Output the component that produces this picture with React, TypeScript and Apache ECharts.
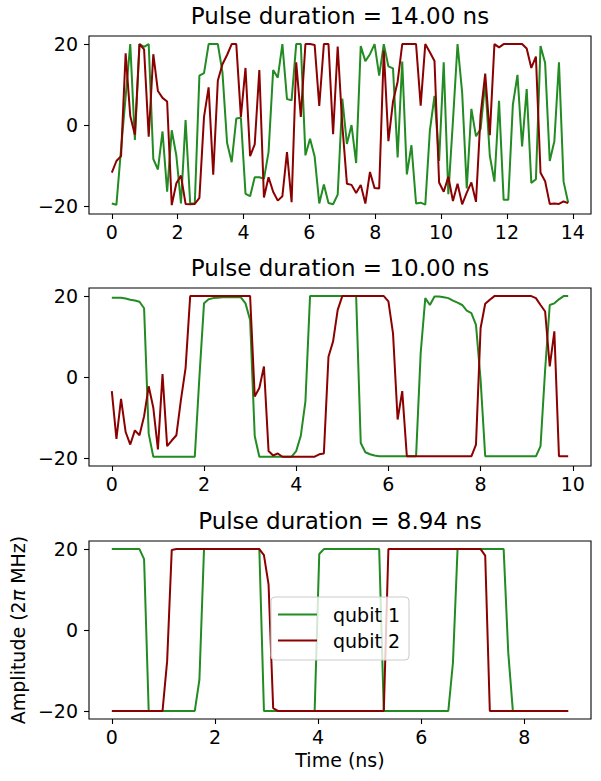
import React, { useEffect, useRef } from "react";
import * as echarts from "echarts";

// Pulse durations (ns) and sample step for 100 samples each
const durations = [14.0, 10.0, 8.94];
const titles = ["Pulse duration = 14.00 ns", "Pulse duration = 10.00 ns", "Pulse duration = 8.94 ns"];
const seriesNames = ["qubit 1", "qubit 2"];
const xTicks14 = [0, 2, 4, 6, 8, 10, 12, 14];
const xTicks10 = [0, 2, 4, 6, 8, 10];
const xTicks894 = [0, 2, 4, 6, 8];
const yTicks = [-20, 0, 20];

const q1_14 = [
  -19.4, -19.7, -6, 7, 20, -3.7, 20, 19.3, 20, -8.4,
  -11, -1.6, -16.5, -1.3, -7.6, -19.4, 1.2, -19.4, -19.4, 12.2,
  12.8, 20, 20, 20, 13, -4.4, -9.2, 1.6, 1.8, -17,
  -17.6, -12.9, -12.9, -13.3, -6.7, 13.6, 11.7, 20, 6.4, 6.1,
  20, 20, -7.5, -3.4, -7.8, -19.4, -14.7, -19.3, -19.6, -17.2,
  6.5, -4.7, 0, -9.4, 19.5, 15.8, 17.5, 20, 12.2, 20,
  14.5, 14, -8, 15.7, -12.2, -5, -19.4, -19.2, -19.7, -1.3,
  7.2, -8.9, 15.5, -17.1, 1, 20, 8, -15.7, 4, -2.8,
  -1, 10.5, -7.6, -14, 6, -18.5, -18.5, 5, 12.4, -5.3,
  8.9, -14.3, -13.4, 19.5, 15.3, -8.9, -4, 15.5, -14, -19.2,
];
const q2_14 = [
  -11.8, -8.9, -7.7, 17.7, 2.2, -2.4, 20, 18.7, -2.9, 17.5,
  8.4, 6.7, 5.8, -19.8, -14.4, -12.5, -19.5, -19.6, -19.5, -18,
  2, 9.3, -12.3, 11, 15, 17.3, 20, 20, 2, 14.1,
  -7.7, -4.8, 13.6, -17.9, -12.9, -16.5, -18.7, -17.6, -6.7, -19.1,
  15.5, 2, 20, 20, 19.8, 4.7, 20, 20, -2.3, 19.4,
  0, -14.5, -14.8, -16.8, -14.8, -19.4, -11.6, -15.6, -15.7, 18.4,
  -4, 5.8, 10.7, 20, 20, 20, 20, 4.8, 20, 18,
  15.8, -14.2, -16.5, -12.8, -18.8, -14.5, -19.6, -16.7, -14.2, -19,
  2.5, 12.7, -2.5, 20, 19.2, 20, 20, 20, 20, 20,
  18.9, 14.1, 16.9, -11.8, -13.9, -19.5, -19.4, -19.5, -18.9, -19.3,
];
const q1_10 = [
  19.6, 19.6, 19.6, 19.4, 19.1, 18.9, 18.6, 17, -14, -19.7,
  -19.7, -19.7, -19.7, -19.7, -19.7, -19.7, -19.7, -19.7, -19.7, 0,
  18.2, 19.2, 19.5, 19.6, 19.7, 19.7, 19.7, 19.7, 19.7, 18.2,
  14.1, -14.6, -19.7, -19.7, -19.7, -19.7, -19.7, -19.7, -19.7, -19.7,
  -18.3, -14.5, -6, 20, 20, 20, 20, 20, 20, 20,
  20, 20, 20, 20, -16.3, -18.6, -19.1, -19.4, -19.6, -19.6,
  -19.6, -19.6, -19.6, -19.6, -19.6, -19.6, -19.6, 5.9, 19.5, 17.8,
  19.9, 19.9, 19.7, 19.5, 18.9, 18.4, 17.8, 16.4, 15.8, 12.9,
  -0.7, -19.6, -19.6, -19.6, -19.6, -19.6, -19.6, -19.6, -19.6, -19.6,
  -19.6, -19.6, -19.6, -17.1, 1.8, 17.8, 18.2, 19.2, 20, 20,
];
const q2_10 = [
  -3.5, -15.3, -5.4, -13.6, -16.7, -13.2, -14.4, -9.7, -2.3, -7.6,
  -17.9, 0.7, -17.1, -15.7, -14.4, -5.6, 2.2, 20, 20, 20,
  20, 20, 20, 20, 20, 20, 20, 20, 20, 20,
  20, -4.8, -2.7, 2.6, -18.3, -19.4, -18.9, -19.7, -19.7, -19.7,
  -19.7, -19.7, -19.7, -19.7, -19.7, -19.1, -18.9, 5, 8.8, 16.6,
  20, 20, 20, 20, 20, 20, 20, 20, 20, 20,
  18.7, 10.8, -10.5, -3.5, -19.6, -19.6, -19.6, -19.6, -19.6, -19.6,
  -19.6, -19.6, -19.6, -19.6, -19.6, -19.6, -19.6, -19.6, -19.6, -16.7,
  12.1, 18.1, 19.1, 20, 20, 20, 20, 20, 20, 20,
  20, 20, 19.5, 17.8, 16.2, 2.6, 11.3, -19.6, -19.6, -19.6,
];
const q1_894 = [
  20, 20, 20, 20, 20, 20, 20, 17.5, -20, -20,
  -20, -20, -20, -20, -20, -20, -20, -20, -20, -12.3,
  20, 20, 20, 20, 20, 20, 20, 20, 20, 20,
  20, 20, 20, -20, -20, -20, -20, -20, -20, -20,
  -20, -20, -20, -20, -20, 18.8, 20, 20, 20, 20,
  20, 20, 20, 20, 20, 20, 20, 20, 20, -20,
  -20, -20, -20, -20, -20, -20, -20, -20, -20, -20,
  -20, -20, -20, -20, -8.1, 20, 20, 20, 20, 20,
  20, 20, 20, 20, 20, 20, -5.6, -20, -20, -20,
  -20, -20, -20, -20, -20, -20, -20, -20, -20, -20,
];
const q2_894 = [
  -20, -20, -20, -20, -20, -20, -20, -20, -20, -20,
  -20, -20, -7.7, 19.8, 20, 20, 20, 20, 20, 20,
  20, 20, 20, 20, 20, 20, 20, 20, 20, 20,
  20, 20, 20, 18.5, 11.3, -19.3, -20, -20, -20, -20,
  -20, -20, -20, -20, -20, -20, -20, -20, -20, -20,
  -20, -20, -20, -20, -20, -20, -20, -20, -20, -20,
  20, 20, 20, 20, 20, 20, 20, 20, 20, 20,
  20, 20, 20, 20, 20, 20, 20, 20, 20, 20,
  20, 18.4, -20, -20, -20, -20, -20, -20, -20, -20,
  -20, -20, -20, -20, -20, -20, -20, -20, -20, -20,
];

const GREEN = "#228B22";
const RED = "#8B0000";
const FONT = "DejaVu Sans";

function pairs(values: number[], duration: number) {
  const dt = duration / values.length;
  return values.map((v, i) => [i * dt, v]);
}

function fmtY(v: number) {
  return v < 0 ? "\u2212" + Math.abs(v) : String(v);
}

export default function App() {
  const ref = useRef<HTMLDivElement>(null);
  useEffect(() => {
    if (!ref.current) return;
    const chart = echarts.init(ref.current, null, { renderer: "svg" });
    const gridTops = [36, 288, 541];
    const gridH = 178;
    const xTickSets = [xTicks14, xTicks10, xTicks894];
    const data = [
      [q1_14, q2_14],
      [q1_10, q2_10],
      [q1_894, q2_894],
    ];
    const labelStyle = { fontSize: 19, color: "#000", fontFamily: FONT };
    const grids = gridTops.map((t) => ({
      left: 89,
      top: t,
      width: 502,
      height: gridH,
      show: true,
      borderColor: "#000",
      borderWidth: 1.1,
      backgroundColor: "transparent",
    }));
    const xAxes = durations.map((d, k) => {
      const last = (d / 100) * 99;
      const pad = last * 0.05;
      return {
        type: "value",
        gridIndex: k,
        position: "bottom",
        min: -pad,
        max: last + pad,
        axisLine: { show: false, onZero: false },
        splitLine: { show: false },
        axisTick: {
          show: true,
          length: 5,
          lineStyle: { color: "#000", width: 1.1 },
          customValues: xTickSets[k],
        },
        axisLabel: { ...labelStyle, margin: 8, customValues: xTickSets[k] },
        ...(k === 2
          ? {
              name: "Time (ns)",
              nameLocation: "middle",
              nameGap: 31,
              nameTextStyle: { ...labelStyle },
            }
          : {}),
      };
    });
    const yAxes = durations.map((_, k) => ({
      type: "value",
      gridIndex: k,
      position: "left",
      min: -22,
      max: 22,
      axisLine: { show: false, onZero: false },
      splitLine: { show: false },
      axisTick: {
        show: true,
        length: 5,
        lineStyle: { color: "#000", width: 1.1 },
        customValues: yTicks,
      },
      axisLabel: { ...labelStyle, margin: 11, formatter: fmtY, customValues: yTicks },
      ...(k === 2
        ? {
            name: "Amplitude (2{it|\u03c0} MHz)",
            nameLocation: "middle",
            nameRotate: 90,
            nameGap: 58,
            nameTextStyle: {
              ...labelStyle,
              rich: { it: { ...labelStyle, fontStyle: "italic" } },
            },
          }
        : {}),
    }));
    const series: any[] = [];
    data.forEach((pair, k) => {
      pair.forEach((vals, j) => {
        series.push({
          type: "line",
          name: seriesNames[j],
          xAxisIndex: k,
          yAxisIndex: k,
          data: pairs(vals, durations[k]),
          symbol: "none",
          showSymbol: false,
          color: j === 0 ? GREEN : RED,
          lineStyle: { width: 2, color: j === 0 ? GREEN : RED },
          z: 2 + j,
        });
      });
    });
    chart.setOption({
      animation: false,
      backgroundColor: "#fff",
      title: titles.map((t, k) => ({
        text: t,
        left: 340,
        textAlign: "center",
        top: gridTops[k] - 32,
        padding: 0,
        textStyle: { fontSize: 23, fontWeight: "normal", color: "#000", fontFamily: FONT },
      })),
      grid: grids,
      xAxis: xAxes,
      yAxis: yAxes,
      legend: {
        data: seriesNames,
        orient: "vertical",
        left: 271,
        top: 597,
        padding: [8, 9, 10, 7],
        icon: "path://M0 0 H40 V2 H0 Z",
        itemWidth: 39,
        itemHeight: 2,
        itemGap: 7,
        backgroundColor: "rgba(255,255,255,0.8)",
        borderColor: "#cccccc",
        borderWidth: 1,
        borderRadius: 4,
        textStyle: { ...labelStyle, padding: [0, 0, 0, 11] },
      },
      series,
    });
    return () => chart.dispose();
  }, []);
  return (
    <div
      ref={ref}
      style={{ position: "fixed", left: 0, top: 0, width: 601, height: 781, background: "#fff" }}
    />
  );
}
